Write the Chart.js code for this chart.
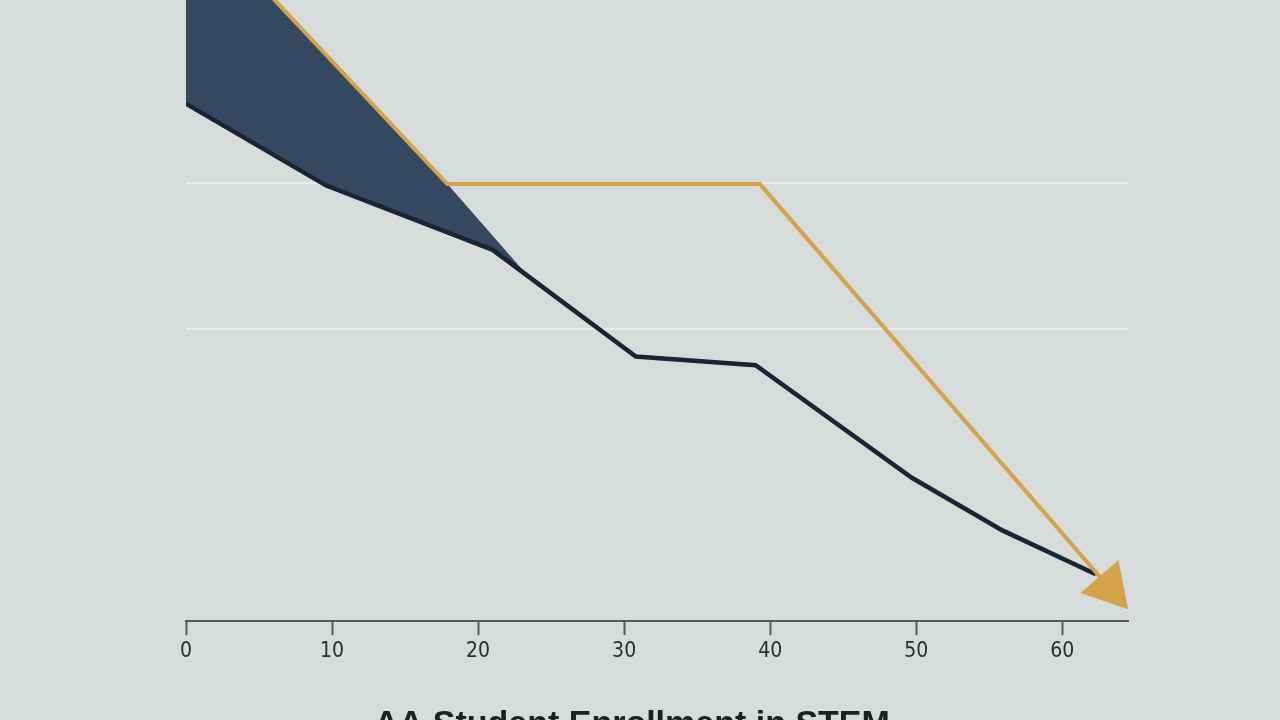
<!DOCTYPE html>
<html>
<head>
<meta charset="utf-8">
<script src="https://cdn.jsdelivr.net/npm/chart.js@4/dist/chart.umd.min.js"></script>
<style>
    html, body { margin: 0; padding: 0; overflow: hidden; background: #d7dbda; }
    #wrap { width: 1280px; height: 774px; margin-top: -29px; }
</style>
</head>
<body>
<div id="wrap"><canvas id="stemChart"></canvas></div>
<script>
// values (x = years-ish scale, y = arbitrary index)
const tickValues = [0, 10, 20, 30, 40, 50, 60];
const tickLabels = ["0", "10", "20", "30", "40", "50", "60"];

const navyX = [0, 9.6, 21.0, 30.8, 39.0, 49.7, 55.9, 62.3];
const navyY = [3.54, 2.98, 2.54, 1.81, 1.75, 0.98, 0.62, 0.32];

const goldX = [5.6, 17.9, 39.3, 63.2];
const goldY = [4.3, 2.99, 2.99, 0.23];

// upper edge of the dark wedge
const wedgeX = [0, 5.6, 17.9, 23.5];
const wedgeY = [4.3, 4.3, 2.99, 2.35];

function toPoints(xs, ys) {
    return xs.map(function (x, i) { return { x: x, y: ys[i] }; });
}

const ctx = document.getElementById("stemChart").getContext("2d");

new Chart(ctx, {
    type: "line",
    data: {
        datasets: [
            {
                label: "Gold",
                data: toPoints(goldX, goldY),
                borderColor: "#d3a44c",
                borderWidth: 4,
                backgroundColor: "#d3a44c",
                pointStyle: "triangle",
                pointRotation: 139,
                pointRadius: goldX.map(function (x, i) { return i === goldX.length - 1 ? 29 : 0; }),
                pointBorderWidth: 0,
                fill: false
            },
            {
                label: "Navy",
                data: toPoints(navyX, navyY),
                borderColor: "#1b2435",
                borderWidth: 4.5,
                pointRadius: 0,
                fill: false
            },
            {
                label: "Wedge",
                data: toPoints(wedgeX, wedgeY),
                borderWidth: 0,
                borderColor: "rgba(0,0,0,0)",
                backgroundColor: "#34495f",
                pointRadius: 0,
                fill: 1
            }
        ]
    },
    options: {
        responsive: true,
        maintainAspectRatio: false,
        animation: false,
        layout: {
            padding: { left: 0, right: 16, top: 0, bottom: 0 }
        },
        plugins: {
            legend: { display: false },
            tooltip: { enabled: false },
            title: {
                display: true,
                position: "bottom",
                text: "AA Student Enrollment in STEM",
                color: "#1c1f24",
                font: { family: "Liberation Sans", size: 34, weight: "bold" },
                padding: { top: 36, bottom: 0 }
            }
        },
        scales: {
            x: {
                type: "linear",
                min: 0,
                max: 64.5,
                afterBuildTicks: function (axis) {
                    axis.ticks = tickValues.map(function (v) { return { value: v }; });
                },
                ticks: {
                    color: "#2b2d30",
                    font: { family: "DejaVu Sans Condensed", size: 21 },
                    padding: 4,
                    maxRotation: 0,
                    callback: function (value) {
                        const i = tickValues.indexOf(value);
                        return i >= 0 ? tickLabels[i] : "";
                    }
                },
                grid: {
                    drawOnChartArea: false,
                    drawTicks: true,
                    tickLength: 14,
                    tickColor: "#55585c",
                    tickWidth: 2
                },
                border: { color: "#55585c", width: 2 }
            },
            y: {
                min: 0,
                max: 4.25,
                afterFit: function (axis) { axis.width = 186; },
                ticks: { display: false, stepSize: 1 },
                grid: {
                    color: function (c) {
                        return (c.tick && (c.tick.value === 2 || c.tick.value === 3)) ? "rgba(255,255,255,0.45)" : "rgba(0,0,0,0)";
                    },
                    lineWidth: 2,
                    drawTicks: false
                },
                border: { display: false }
            },
            yRight: {
                position: "right",
                min: 0,
                max: 1,
                afterFit: function (axis) { axis.width = 136; },
                ticks: { display: false },
                grid: { display: false },
                border: { display: false }
            }
        }
    }
});
</script>
</body>
</html>
